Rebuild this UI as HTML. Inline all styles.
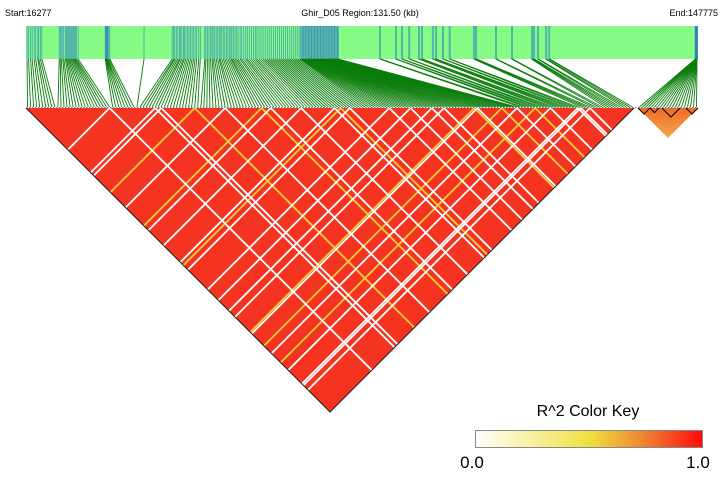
<!DOCTYPE html>
<html><head><meta charset="utf-8">
<style>
html,body{margin:0;padding:0;background:#fff;}
svg{display:block;font-family:"Liberation Sans",sans-serif;}
</style></head>
<body>
<svg id="chart" width="720" height="477" viewBox="0 0 720 477" xmlns="http://www.w3.org/2000/svg">
<defs>
<linearGradient id="keyGrad" x1="0" x2="1" y1="0" y2="0">
<stop offset="0" stop-color="#ffffff"/>
<stop offset="0.5" stop-color="#f0e040"/>
<stop offset="0.75" stop-color="#f08030"/>
<stop offset="1" stop-color="#ff0a0a"/>
</linearGradient>
<linearGradient id="smallGrad" x1="0" x2="0" y1="0" y2="1">
<stop offset="0" stop-color="#ee6a2a"/>
<stop offset="1" stop-color="#f6a848"/>
</linearGradient>
<clipPath id="bigClip"><polygon points="26,108 634,108 330,412"/></clipPath>
</defs>
<text x="5" y="16" font-size="9" fill="#000">Start:16277</text>
<text x="360" y="16" font-size="9" text-anchor="middle" fill="#000">Ghir_D05 Region:131.50 (kb)</text>
<text x="718" y="16" font-size="9" text-anchor="end" fill="#000">End:147775</text>
<rect x="26" y="26" width="672" height="33" fill="#86fb86"/>
<g id="markers"></g>
<g id="links"></g>
<g id="big" clip-path="url(#bigClip)"></g>
<polyline points="26,108 330,412 634,108" fill="none" stroke="#222" stroke-width="1"/>
<g id="small"></g>
<line x1="26" y1="107.5" x2="698" y2="107.5" stroke="#777" stroke-width="1" stroke-dasharray="1.5,1.5"/>
<text x="588" y="416" font-size="16" text-anchor="middle" fill="#000">R^2 Color Key</text>
<rect x="475.5" y="430.5" width="227" height="17" fill="url(#keyGrad)" stroke="#888" stroke-width="1"/>
<text x="472" y="468" font-size="17" text-anchor="middle" fill="#000">0.0</text>
<text x="698" y="468" font-size="17" text-anchor="middle" fill="#000">1.0</text>
</svg>
<script>
// SNP positions (kb from region start) - main LD block
const snpKbMain = [0.2,0.5,0.9,1.2,1.6,1.9,2.3,2.5,2.8,3.1,
6.5,6.7,6.9,7.2,7.4,7.7,7.9,8.1,8.3,8.5,8.7,8.9,9.1,9.3,9.5,9.7,9.9,10.2,
15.5,15.6,15.7,15.8,15.9,16.0,16.2,16.4,
23.1,
28.6,28.9,29.1,29.4,29.7,30.0,30.2,30.5,30.8,31.0,31.3,31.6,31.9,32.2,32.5,32.8,33.1,33.4,33.8,34.1,
35.0,35.2,35.5,35.8,36.1,36.4,36.6,36.9,37.2,37.5,37.8,38.0,38.3,38.6,38.9,39.2,39.5,39.8,40.1,40.3,40.6,40.9,41.2,41.5,41.9,
42.2,42.6,43.0,43.3,43.7,44.1,44.5,44.9,45.2,45.6,46.0,46.4,46.8,47.2,47.6,48.0,48.4,48.8,49.2,49.6,50.0,50.4,50.8,51.2,51.6,52.0,52.4,52.8,53.2,53.6,
53.8,54.0,54.1,54.3,54.4,54.6,54.7,54.9,55.0,55.2,55.3,55.5,55.6,55.8,55.9,56.1,56.2,56.4,56.5,56.7,56.8,57.0,57.1,57.3,57.4,57.6,57.7,57.9,58.0,58.2,58.3,58.5,58.6,58.8,58.9,59.1,59.2,59.4,59.5,59.7,59.8,60.0,60.1,60.3,60.4,60.6,60.7,60.9,61.0,61.1,
69.2,69.4,72.3,72.5,73.5,73.7,74.9,75.1,76.8,77.0,77.4,77.6,79.5,79.7,80.1,80.3,81.5,81.7,82.8,83.0,87.6,87.8,88.0,88.2,91.9,92.1,95.0,95.2,98.9,99.1,99.3,99.5,100.1,100.3,101.7,101.9,102.3,102.5];
// SNP positions - small LD block at region end
const snpKbSmall = [131.0,131.02,131.04,131.06,131.08,131.1,131.12,131.14,131.16,131.18,131.2,131.22,131.24,131.26,131.28,131.3,131.32,131.34,131.36,131.38];
// main block SNP indices with low r^2 (white bands) and medium r^2 (yellow bands)
const lowLdIdx = [27,42,44,65,80,90,101,106,119,126,133,137,148,161,172,181,182,185];
const midLdIdx = [55,77,103,147,156,167];
const lowLdR2 = 0.0;
const midLdR2 = 0.55;
const baseR2 = 0.97;
const regionKb = 131.5;

const NS = 'http://www.w3.org/2000/svg';
function mk(tag, attrs, parent){const e=document.createElementNS(NS,tag);for(const k in attrs)e.setAttribute(k,attrs[k]);parent.appendChild(e);return e;}
function xGenome(kb){return 26 + kb/regionKb*672;}
function r2Color(r){
  const stops=[[0,[255,255,255]],[0.5,[240,224,64]],[0.75,[240,128,48]],[1,[245,40,30]]];
  for(let i=1;i<stops.length;i++){if(r<=stops[i][0]){const a=stops[i-1],b=stops[i];const t=(r-a[0])/(b[0]-a[0]);
    const c=a[1].map((v,j)=>Math.round(v+(b[1][j]-v)*t));return 'rgb('+c.join(',')+')';}}
  return 'rgb(245,40,30)';
}
const markers=document.getElementById('markers'), links=document.getElementById('links');
const bigL=26,bigR=634,smL=638,smR=698,topY=108;
const nM=snpKbMain.length, wM=(bigR-bigL)/nM;
const nS=snpKbSmall.length, wS=(smR-smL)/nS;
function bottomMain(i){return bigL+(i+0.5)*wM;}
function bottomSmall(i){return smL+(i+0.5)*wS;}
snpKbMain.forEach((kb,i)=>{
  const x=xGenome(kb);
  const m=mk('line',{x1:x,y1:26,x2:x,y2:59,stroke:'#2e80c0','stroke-width':0.7,'stroke-opacity':0.8},markers);
  
  
  const l=mk('line',{x1:x,y1:59,x2:bottomMain(i),y2:107,stroke:'#0a7d0a','stroke-width':0.9},links);
  
  
});
snpKbSmall.forEach((kb,i)=>{
  const x=Math.min(xGenome(kb),697);
  const m=mk('line',{x1:x,y1:26,x2:x,y2:59,stroke:'#2e80c0','stroke-width':1.2},markers);
  
  
  const l=mk('line',{x1:x,y1:59,x2:bottomSmall(i),y2:107,stroke:'#0a7d0a','stroke-width':0.9},links);
  
  
});
const big=document.getElementById('big');
const bg=mk('polygon',{points:'26,108 634,108 330,412',fill:r2Color(baseR2)},big);


function band(idx,r2,w){
  const p=bottomMain(idx);
  const tl=(p-bigL)/2, tr=(bigR-p)/2;
  const a=mk('line',{x1:p,y1:topY,x2:p-tl,y2:topY+tl,stroke:r2Color(r2),'stroke-width':w},big);
  
  
  const b=mk('line',{x1:p,y1:topY,x2:p+tr,y2:topY+tr,stroke:r2Color(r2),'stroke-width':w},big);
  
  
}
midLdIdx.forEach(i=>band(i,midLdR2,wM*0.6));
lowLdIdx.forEach(i=>band(i,lowLdR2,wM*0.6));
const small=document.getElementById('small');
const h=(smR-smL)/2;
const sp=mk('polygon',{points:smL+','+topY+' '+smR+','+topY+' '+(smL+h)+','+(topY+h)},small);
sp.setAttribute('fill','url(#smallGrad)');


[[0,3],[4,6],[8,13],[16,19]].forEach(g=>{
  const a=bottomSmall(g[0])-wS/2,b=bottomSmall(g[1])+wS/2,mid=(a+b)/2,d=(b-a)/2;
  const bl=mk('polyline',{points:a+','+topY+' '+mid+','+(topY+d)+' '+b+','+topY,fill:'none',stroke:'#000','stroke-width':1},small);
  
  
});
</script>
</body></html>
